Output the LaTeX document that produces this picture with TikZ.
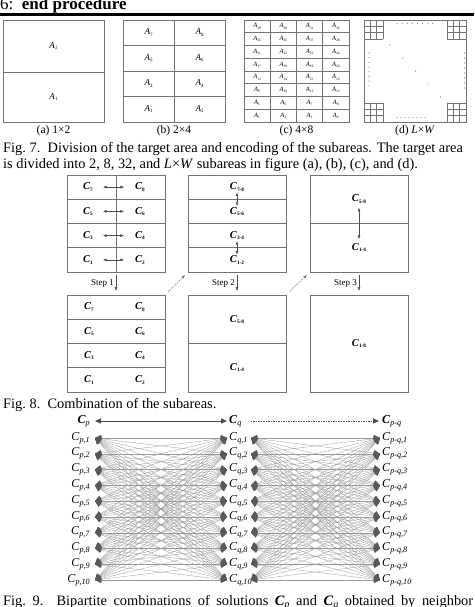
\documentclass[tikz,border=0pt]{standalone}
\usepackage{fontspec}
\setmainfont{Liberation Serif}
\usetikzlibrary{arrows.meta}
\newcommand{\smallsub}[2][0.62]{\raisebox{-0.35ex}{\scalebox{#1}{#2}}}
\newcommand{\Ai}[1]{\textit{A}\smallsub[0.55]{#1}}
\newcommand{\Cb}[1]{\textbf{\textit{C}}\smallsub[0.5]{\textbf{#1}}}
\newcommand{\Ci}[1]{\textit{C}\smallsub[0.68]{\textit{#1}}}
\newcommand{\Cbi}[1]{\textbf{\textit{C}}\smallsub[0.68]{\textit{#1}}}
\tikzset{
  gl/.style={draw=black!55, line width=0.6pt},
  dotmark/.style={fill=black!60},
  alab/.style={font=\fontsize{9}{9}\selectfont},
  clab/.style={font=\fontsize{6.5}{6.5}\selectfont},
  sublab/.style={font=\fontsize{11.5}{11.5}\selectfont, anchor=base},
  caption/.style={font=\fontsize{14.4}{14.4}\selectfont, anchor=base west},
  boxc/.style={draw=black!55, line width=0.6pt, minimum width=98pt, minimum height=97pt},
  clb/.style={font=\fontsize{10.5}{10.5}\selectfont},
  dbl/.style={{Triangle[length=3.5pt,width=2.5pt]}-{Triangle[length=3.5pt,width=2.5pt]}, draw=black!70, line width=0.5pt},
  steparr/.style={-{Triangle[length=3.5pt,width=2.5pt]}, draw=black!70, line width=0.5pt},
  steplab/.style={font=\fontsize{9}{9}\selectfont, anchor=east},
  diagarr/.style={-{Triangle[length=3.5pt,width=2.5pt]}, draw=black!55, dashed, dash pattern=on 1.5pt off 1pt, line width=0.5pt},
  bip/.style={{Triangle[length=6pt,width=6pt,color=black!65]}-{Triangle[length=6pt,width=6pt,color=black!65]}, draw=black!40, line width=0.3pt},
  nlab/.style={font=\fontsize{12}{12}\selectfont},
  toparr/.style={{Triangle[length=6pt,width=5pt]}-{Triangle[length=6pt,width=5pt]}, draw=black!70, line width=0.8pt},
  topdash/.style={-{Triangle[length=6pt,width=5pt]}, draw=black!70, dashed, dash pattern=on 1.5pt off 1pt, line width=0.8pt}
}
\begin{document}
\begin{tikzpicture}[x=1pt,y=-1pt, every node/.style={inner sep=0pt}]
\useasboundingbox (0,0) rectangle (474,607);

% header
\node[anchor=base west, font=\fontsize{17}{17}\selectfont] (hdr) at (0,9.5) {6:\ \ \textbf{end procedure}};
\draw[line width=3pt] (0,15) -- (474,15);

% ---------- Fig 7 ----------
% (a)
\draw[gl] (3,20) rectangle (104,122);
\draw[gl] (3,72) -- (104,72);
\node[alab] (a2) at (53.5,46) {\Ai{2}};
\node[alab] (a1) at (53.5,97) {\Ai{1}};
\node[sublab] (sa) at (53.5,133) {(a) 1×2};
% (b)
\draw[gl] (123,20) rectangle (225,122);
\draw[gl] (174,20) -- (174,122);
\foreach \yy in {45.5,71,96.5} \draw[gl] (123,\yy) -- (225,\yy);
\foreach \r in {0,...,3}{
  \foreach \c in {1,2}{
    \pgfmathtruncatemacro\n{2*\r+\c}
    \node[alab] (b\n) at ({123+25.5*(2*\c-1)}, {122-25.5*(\r+0.5)}) {\Ai{\n}};
  }
}
\node[sublab] (sb) at (174,133) {(b) 2×4};
% (c)
\draw[gl] (244,20) rectangle (349,122);
\foreach \k in {1,2,3} \draw[gl] ({244+26.25*\k},20) -- ({244+26.25*\k},122);
\foreach \k in {1,...,7} \draw[gl] (244,{20+12.75*\k}) -- (349,{20+12.75*\k});
\foreach \r in {0,...,7}{
  \foreach \c in {1,...,4}{
    \pgfmathtruncatemacro\n{4*\r+\c}
    \node[clab] (c\n) at ({244+26.25*(\c-0.5)}, {122-12.75*(\r+0.5)}) {\Ai{\n}};
  }
}
\node[sublab] (sc) at (296.5,133) {(c) 4×8};
% (d)
\draw[gl] (364,20) rectangle (466,122);
\foreach \x/\y in {364/20, 447/20, 364/103, 447/103}{
  \foreach \k in {0,...,3}{
    \draw[gl, line width=0.5pt] ({\x+6.33*\k},\y) -- ({\x+6.33*\k},{\y+19});
    \draw[gl, line width=0.5pt] (\x,{\y+6.33*\k}) -- ({\x+19},{\y+6.33*\k});
  }
}
\foreach \k in {0,...,7} \fill[dotmark] ({397+5.1*\k},23.3) circle (0.55);
\foreach \k in {0,...,7} \fill[dotmark] ({397+4*\k},117.7) circle (0.55);
\foreach \k in {0,...,7} \fill[dotmark] (369,{53+4.7*\k}) circle (0.55);
\foreach \k in {0,...,7} \fill[dotmark] (464.7,{53+5*\k}) circle (0.55);
\foreach \k in {0,...,4} \fill[dotmark] ({390+12.7*\k},{45+13*\k}) circle (0.6);
\node[sublab] (sd) at (415,133) {(d) \textit{L}×\textit{W}};

\node[caption] (cap7a) at (3,152.5) {Fig.~7.\ \ Division of the target area and encoding of the subareas. The target area};
\node[caption] (cap7b) at (3,168) {is divided into 2, 8, 32, and \textit{L}×\textit{W} subareas in figure (a), (b), (c), and (d).};

% ---------- Fig 8 ----------
\node[boxc] (b1t) at (116,223.5) {};
\node[boxc] (b1b) at (116,343.5) {};
\node[boxc] (b2t) at (237,223.5) {};
\node[boxc] (b2b) at (237,343.5) {};
\node[boxc] (b3t) at (359,223.5) {};
\node[boxc] (b3b) at (359,343.5) {};
% dividers
\draw[gl] (116,175) -- (116,272);
\foreach \yy in {199.25,223.5,247.75} {
  \draw[gl] (67,\yy) -- (165,\yy);
  \draw[gl] (188,\yy) -- (286,\yy);
}
\foreach \yy in {319.25,343.5,367.75} \draw[gl] (67,\yy) -- (165,\yy);
\draw[gl] (188,343.5) -- (286,343.5);
\draw[gl] (310,223.5) -- (408,223.5);
% labels box 1 top
\foreach \a/\b/\yy in {7/8/187.1, 5/6/211.4, 3/4/235.6, 1/2/259.9}{
  \node[clb] (t\a) at (88,\yy) {\Cb{\a}};
  \node[clb] (t\b) at (140,\yy) {\Cb{\b}};
  \draw[dbl, shorten <=10pt, shorten >=11pt] (t\a) -- (t\b);
}
% labels box 1 bottom
\foreach \a/\b/\yy in {7/8/307.1, 5/6/331.4, 3/4/355.6, 1/2/379.9}{
  \node[clb] (u\a) at (89,\yy) {\Cb{\a}};
  \node[clb] (u\b) at (140,\yy) {\Cb{\b}};
}
% box 2 top
\node[clb] (m78) at (237,187.1) {\Cb{7-8}};
\node[clb] (m56) at (237,211.4) {\Cb{5-6}};
\node[clb] (m34) at (237,235.6) {\Cb{3-4}};
\node[clb] (m12) at (237,259.9) {\Cb{1-2}};
\draw[dbl, shorten <=1pt, shorten >=1pt] (m78) -- (m56);
\draw[dbl, shorten <=1pt, shorten >=1pt] (m34) -- (m12);
% box 2 bottom
\node[clb] (n58) at (237,319.5) {\Cb{5-8}};
\node[clb] (n14) at (237,367.5) {\Cb{1-4}};
% box 3 top
\node[clb] (r58) at (359,199.3) {\Cb{5-8}};
\node[clb] (r14) at (359,247.5) {\Cb{1-4}};
\draw[dbl, shorten <=4pt, shorten >=4pt] (r58) -- (r14);
% box 3 bottom
\node[clb] (s18) at (359,343.5) {\Cb{1-8}};
% steps
\draw[steparr, shorten <=3pt, shorten >=4pt] (b1t.south) -- (b1b.north);
\draw[steparr, shorten <=3pt, shorten >=4pt] (b2t.south) -- (b2b.north);
\draw[steparr, shorten <=3pt, shorten >=4pt] (b3t.south) -- (b3b.north);
\node[steplab] (st1) at (114,283) {Step 1};
\node[steplab] (st2) at (235,283) {Step 2};
\node[steplab] (st3) at (357,283) {Step 3};
\draw[diagarr, shorten <=4pt, shorten >=4pt] (b1b.north east) -- (b2t.south west);
\draw[diagarr, shorten <=4pt, shorten >=4pt] (b2b.north east) -- (b3t.south west);

\node[caption] (cap8) at (3,408) {Fig.~8.\ \ Combination of the subareas.};

% ---------- Fig 9 ----------
\node[nlab, anchor=east] (cp) at (90,421) {\Cbi{p}};
\node[nlab, anchor=west] (cq) at (229,421) {\Cbi{q}};
\node[nlab, anchor=west] (cpq) at (382,421) {\Cbi{p-q}};
\draw[toparr, shorten <=5pt, shorten >=2pt] (cp.east) -- (cq.west);
\draw[topdash, shorten <=9pt, shorten >=3pt] (cq.east) -- (cpq.west);
\foreach \i in {1,...,10}{
  \pgfmathsetmacro\yy{438+15.78*(\i-1)}
  \node[nlab, anchor=east] (cp\i) at (90,\yy) {\Ci{p,\i}};
  \coordinate (pl\i) at (95,\yy);
  \coordinate (pr\i) at (227,\yy);
  \node[nlab, anchor=west] (cq\i) at (229,\yy) {\Ci{q,\i}};
  \coordinate (ql\i) at (251,\yy);
  \coordinate (qr\i) at (380,\yy);
  \node[nlab, anchor=west] (cpq\i) at (382,\yy) {\Ci{p-q,\i}};
}
\foreach \i in {1,...,10}{
  \foreach \j in {1,...,10}{
    \draw[bip] (pl\i) -- (pr\j);
    \draw[bip] (ql\i) -- (qr\j);
  }
}

\node[caption] (cap9) at (3,605) {\makebox[470pt][s]{Fig.~9.\ \ Bipartite combinations of solutions \Cbi{p} and \Cbi{q} obtained by neighbor}};
\end{tikzpicture}
\end{document}
